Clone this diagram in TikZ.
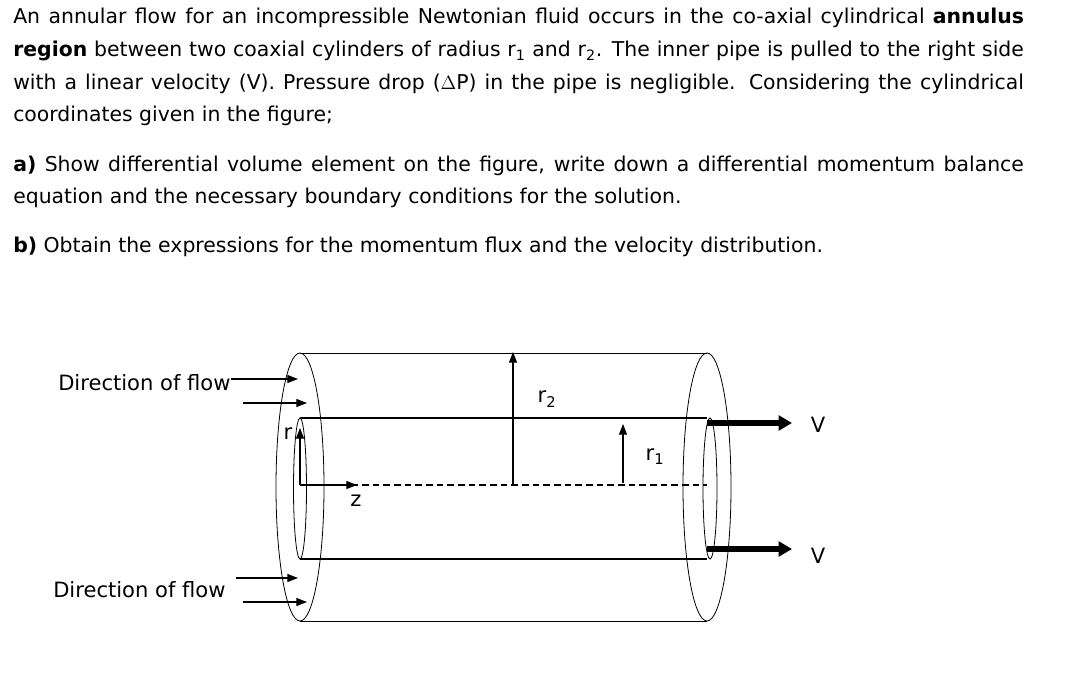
\documentclass[tikz,border=0pt]{standalone}
\usepackage{fontspec}
\setmainfont{DejaVu Sans}
\usetikzlibrary{arrows.meta}
\begin{document}
\begin{tikzpicture}[x=0.75pt,y=-0.75pt,
  txt/.style={anchor=west,inner sep=0pt,font=\fontsize{15.3}{17}\selectfont},
  lbl/.style={inner sep=0pt,font=\fontsize{15.8}{17}\selectfont},
  thin line/.style={line width=0.6pt},
  arr/.style={-{Triangle[length=8pt,width=6pt]},line width=0.9pt},
  bigarr/.style={-{Triangle[length=10pt,width=11pt]},line width=4.5pt}]
\useasboundingbox (0,0) rectangle (1086,678);
\node[txt] (l1) at (13,18) {\makebox[758pt][s]{An annular flow for an incompressible Newtonian fluid occurs in the co-axial cylindrical \textbf{annulus}}};
\node[txt] (l2) at (13,51) {\makebox[758pt][s]{\textbf{region} between two coaxial cylinders of radius r\textsubscript{1} and r\textsubscript{2}. The inner pipe is pulled to the right side}};
\node[txt] (l3) at (13,84) {\makebox[758pt][s]{with a linear velocity (V). Pressure drop ($\Delta$P) in the pipe is negligible. Considering the cylindrical}};
\node[txt] (l4) at (13,116) {coordinates given in the figure;};
\node[txt] (l5) at (13,166) {\makebox[758pt][s]{\textbf{a)} Show differential volume element on the figure, write down a differential momentum balance}};
\node[txt] (l6) at (13,198) {equation and the necessary boundary conditions for the solution.};
\node[txt] (l7) at (13,247) {\textbf{b)} Obtain the expressions for the momentum flux and the velocity distribution.};
% cylinders
\draw[thin line] (300,353) -- (707,353);
\draw[thin line] (300,621) -- (707,621);
\draw[thin line] (300,487) ellipse [x radius=24, y radius=134];
\draw[thin line] (707,487) ellipse [x radius=24, y radius=134];
\draw[line width=0.9pt] (300,418) -- (707,418);
\draw[line width=0.9pt] (300,559) -- (707,559);
\draw[thin line] (300,488.5) ellipse [x radius=6.5, y radius=70.5];
\draw[thin line] (710,488.5) ellipse [x radius=7, y radius=70.5];
\draw[dashed,line width=0.8pt,dash pattern=on 5pt off 3pt] (330,485) -- (707,485);
% axes
\coordinate (o) at (300,485);
\coordinate (rt) at (300,428);
\coordinate (zt) at (357,485);
\draw[arr] (o) -- (rt);
\draw[arr] (o) -- (zt);
\node[lbl] (r) at (288,434) {r};
\node[lbl] (z) at (356,501) {z};
\coordinate (r2b) at (513,485); \coordinate (r2t) at (513,352);
\draw[arr] (r2b) -- (r2t);
\node[lbl] (r2) at (547,399) {r\textsubscript{2}};
\coordinate (r1b) at (623,483); \coordinate (r1t) at (623,424);
\draw[arr] (r1b) -- (r1t);
\node[lbl] (r1) at (655,457) {r\textsubscript{1}};
% V arrows
\node[lbl] (v1) at (818,425) {V};
\node[lbl] (v2) at (818,556) {V};
\coordinate (va) at (707,423); \coordinate (vb) at (792,423);
\coordinate (vc) at (707,549); \coordinate (vd) at (792,549);
\draw[bigarr] (va) -- (vb);
\draw[bigarr] (vc) -- (vd);
% flow
\node[lbl,anchor=west] (f1) at (58,383) {Direction of flow};
\node[lbl,anchor=west] (f2) at (53,590) {Direction of flow};
\coordinate (a1) at (f1.east); \coordinate (b1) at (298,379);
\coordinate (a2) at (243,403); \coordinate (b2) at (307,403);
\coordinate (a3) at (236,578); \coordinate (b3) at (298,578);
\coordinate (a4) at (243,602); \coordinate (b4) at (307,602);
\draw[arr] (a1 |- b1) -- (b1);
\draw[arr] (a2) -- (b2);
\draw[arr] (a3) -- (b3);
\draw[arr] (a4) -- (b4);
\end{tikzpicture}
\end{document}
